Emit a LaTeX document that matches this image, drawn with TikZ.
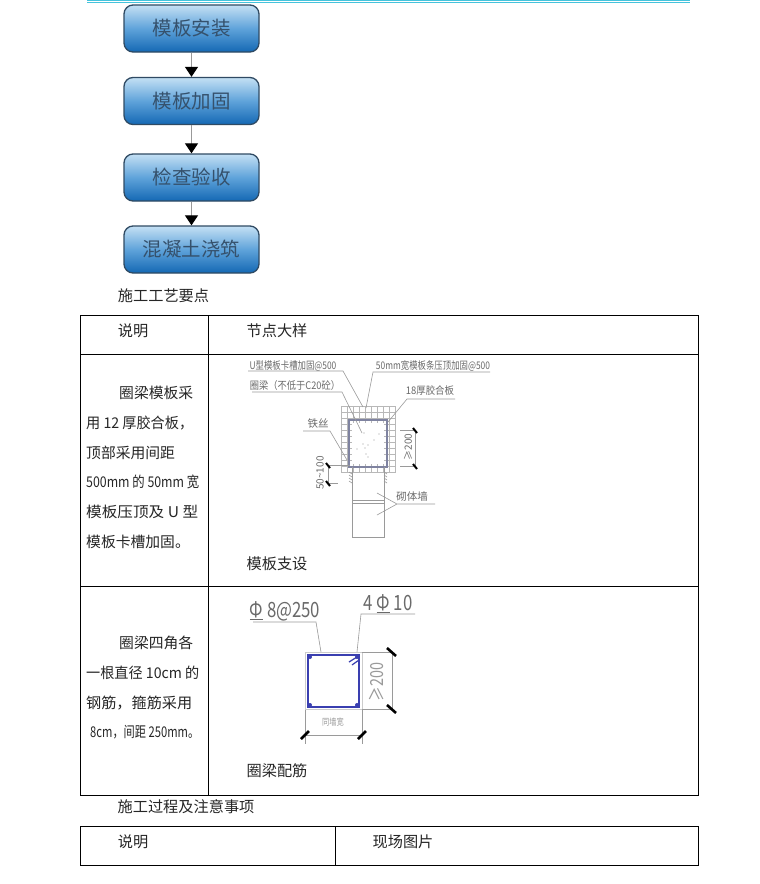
\documentclass[tikz,border=0pt]{standalone}
\usepackage{fontspec}
\usepackage{graphicx}
\usetikzlibrary{arrows.meta,shadings}
\newfontfamily\cjk{Noto Sans CJK SC}
\newcommand{\fitline}[2]{\resizebox{#1pt}{\height}{#2}}
\definecolor{boxedge}{HTML}{2F4A63}
\definecolor{boxtop}{HTML}{C4E0F4}
\definecolor{boxmid}{HTML}{5FA3DA}
\definecolor{boxbot}{HTML}{1468B4}
\definecolor{boxtext}{HTML}{35516C}
\definecolor{topcyan}{HTML}{45C3DC}
\definecolor{dwg}{HTML}{9A9A9A}
\definecolor{dwgtext}{HTML}{6A6A6A}
\definecolor{rebar}{HTML}{3A3FB0}
\definecolor{formedge}{HTML}{7F83A0}
\tikzset{
  x=1pt,y=-1pt,
  flowbox/.style={rounded corners=9pt,draw=boxedge,line width=1.3pt,top color=boxtop,bottom color=boxbot,middle color=boxmid,
    minimum width=135pt,minimum height=47pt,inner sep=0pt,text=boxtext,font=\cjk\fontsize{19.5}{24}\selectfont},
  flowarrow/.style={draw=gray!80,line width=1pt,-{Triangle[length=10pt,width=13pt,color=black,fill=black]}},
  bodytext/.style={inner sep=0pt,text=black!85,font=\cjk\fontsize{15.2}{18}\selectfont},
  para/.style={inner sep=0pt,text=black!85,align=left,anchor=north west,font=\cjk\fontsize{14.8}{29.7}\selectfont},
  tablerule/.style={draw=black,line width=.9pt},
  dwgline/.style={draw=dwg,line width=.6pt},
  dwglabel/.style={inner sep=0pt,text=dwgtext,font=\cjk\fontsize{10.5}{12}\selectfont},
  ticktick/.style={draw=black,line width=2.6pt},
  barlabel/.style={inner sep=0pt,text=dwgtext,font=\fontsize{21}{24}\selectfont\cjk},
}
\begin{document}
\begin{tikzpicture}
\useasboundingbox (0,0) rectangle (760,884);
\fill[white] (0,0) rectangle (760,884);
% top rule
\fill[topcyan] (87,0) rectangle (690,3);
\draw[white,line width=.4pt] (87,1.4) -- (690,1.4);
% flow
\node[flowbox] (b1) at (191.5,28.5) {模板安装};
\node[flowbox] (b2) at (191.5,101) {模板加固};
\node[flowbox] (b3) at (191.5,177.5) {检查验收};
\node[flowbox] (b4) at (191.5,249.5) {混凝土浇筑};
\draw[flowarrow] (b1) -- (b2);
\draw[flowarrow] (b2) -- (b3);
\draw[flowarrow] (b3) -- (b4);
\node[bodytext] (t1) at (163.5,295.5) {施工工艺要点};
% table 1
\draw[tablerule] (80,315) rectangle (698,795);
\draw[tablerule] (80,354.5) -- (698,354.5);
\draw[tablerule] (80,586.5) -- (698,586.5);
\draw[tablerule] (208.5,315) -- (208.5,795);
\node[bodytext] (h1) at (133,330.5) {说明};
\node[bodytext] (h2) at (277,330.5) {节点大样};
\node[para] (p1) at (86,386) {\hspace*{33pt}圈梁模板采\\\fitline{107}{用 12 厚胶合板，}\\顶部采用间距\\\fitline{113}{500mm 的 50mm 宽}\\\fitline{112}{模板压顶及 U 型}\\模板卡槽加固。};
\node[para] (p2) at (86,636) {\hspace*{33pt}圈梁四角各\\\fitline{113}{一根直径 10cm 的}\\\fitline{106}{钢筋，箍筋采用}\\\hspace*{4pt}\fitline{109}{8cm，间距 250mm。}};
\node[bodytext] (c1) at (277,563.5) {模板支设};
\node[bodytext] (c2) at (277,770.5) {圈梁配筋};
\node[bodytext] (t2) at (186,806.5) {施工过程及注意事项};
% table 2
\draw[tablerule] (80,826) rectangle (698,865);
\draw[tablerule] (335.5,826) -- (335.5,865);
\node[bodytext] (h3) at (133,842) {说明};
\node[bodytext] (h4) at (403,842) {现场图片};
% section detail: form grid
\begin{scope}
\clip (341,406) rectangle (395,472);
\foreach \x in {341,347,...,395} \draw[dwgline,draw=dwg!70] (\x,406) -- (\x,472);
\foreach \y in {406,412,...,472} \draw[dwgline,draw=dwg!70] (341,\y) -- (395,\y);
\end{scope}
\draw[dwgline,draw=dwg!70] (341,406) rectangle (395,472);
\fill[white] (352,423) rectangle (384,464);
\draw[draw=formedge,line width=1.5pt] (349,420) rectangle (387,467);
\draw[dwgline] (352,467) -- (352,537) -- (384,537) -- (384,467);
\draw[dwgline] (352,500) -- (384,500) (352,503) -- (384,503);
\foreach \y in {472,475,478,481} {\draw[dwgline] (349,\y) -- (352,\y+2); \draw[dwgline] (384,\y) -- (387,\y+2);}
\foreach \p in {(364,433),(365,448),(366,454),(368,457),(374,440),(368,445),(379,434),(357,449),(363,444)} \fill[dwg] \p circle (.7);
% section labels
\node[dwglabel] (l1) at (293,366) {\scalebox{.8}[1]{U型模板卡槽加固@500}};
\node[dwglabel] (l2) at (433,366) {\scalebox{.8}[1]{50mm宽模板条压顶加固@500}};
\node[dwglabel] (l3) at (295,386) {\scalebox{.88}[1]{圈梁（不低于C20砼）}};
\node[dwglabel] (l4) at (430,391) {\scalebox{.9}[1]{18厚胶合板}};
\node[dwglabel] (l5) at (318,424) {铁丝};
\node[dwglabel] (l6) at (412,496) {砌体墙};
\coordinate (a1) at (248,371); \coordinate (a2) at (343,371); \coordinate (a3) at (363,407);
\draw[dwgline] (a1) -- (a2) -- (a3);
\coordinate (b5) at (490,372); \coordinate (b6) at (373,372); \coordinate (b7) at (366,408);
\draw[dwgline] (b5) -- (b6) -- (b7);
\coordinate (c3) at (252,392); \coordinate (c4) at (342,392); \coordinate (c5) at (362,433);
\draw[dwgline] (c3) -- (c4) -- (c5);
\coordinate (d1) at (455,399); \coordinate (d2) at (407,399); \coordinate (d3) at (388,422);
\draw[dwgline] (d1) -- (d2) -- (d3);
\coordinate (e1) at (303,431); \coordinate (e2) at (330,431); \coordinate (e3) at (347,460);
\draw[dwgline] (e1) -- (e2) -- (e3);
\coordinate (f1) at (435,504); \coordinate (f2) at (397,504); \coordinate (f3) at (377,493); \coordinate (f4) at (377,515);
\draw[dwgline] (f1) -- (f2) -- (f3) (f2) -- (f4);
% section dims
\draw[dwgline] (400,430) -- (415,430) -- (415,466) -- (400,466);
\draw[ticktick,line width=2pt] (413,428) -- (417,433) (413,464) -- (417,469);
\node[dwglabel,rotate=90,font=\cjk\fontsize{10}{12}\selectfont] (d200) at (408,447) {≥200};
\draw[dwgline] (350,465) -- (328,465) -- (328,483) -- (338,483);
\draw[ticktick,line width=2pt] (326,463) -- (330,468) (326,481) -- (330,486);
\node[dwglabel,rotate=90,font=\cjk\fontsize{10}{12}\selectfont] (d50) at (320,473) {50\textasciitilde100};
% rebar detail
\draw[draw=dwg!50,line width=.8pt] (305,652) rectangle (362,709);
\draw[draw=rebar,line width=1.5pt] (308,655) rectangle (359,707);
\foreach \p in {(310,657),(357,657),(310,705),(357,705)} \fill[rebar] \p circle (2);
\draw[rebar,line width=1.2pt] (357,657) -- (349,662) (359,660) -- (352,665);
\node[barlabel] (r1) at (285,611) {\scalebox{.8}[1]{\underline{Φ} 8@250}};
\node[barlabel] (r2) at (388,604) {\scalebox{.8}[1]{4 \underline{Φ} 10}};
\coordinate (g1) at (253,622); \coordinate (g2) at (316,622); \coordinate (g3) at (321,652);
\draw[dwgline] (g1) -- (g2) -- (g3);
\coordinate (h5) at (415,614); \coordinate (h6) at (361,614); \coordinate (h7) at (357,652);
\draw[dwgline] (h5) -- (h6) -- (h7);
\draw[dwgline] (362,652) -- (392,652) -- (392,709) -- (362,709);
\draw[ticktick] (387,648) -- (396,656) (387,705) -- (396,713);
\node[inner sep=0pt,rotate=90,text=dwg,font=\cjk\fontsize{18}{20}\selectfont] (d3a) at (377,682) {\scalebox{.8}[1]{≥200}};
\draw[dwgline] (305,710) -- (305,744) (362,710) -- (362,744) (305,735) -- (362,735);
\draw[ticktick] (301,739) -- (309,731) (358,739) -- (366,731);
\node[inner sep=0pt,text=dwg,font=\cjk\fontsize{9}{10}\selectfont] (d3b) at (333,722) {\scalebox{.8}[1]{同墙宽}};
\end{tikzpicture}
\end{document}
